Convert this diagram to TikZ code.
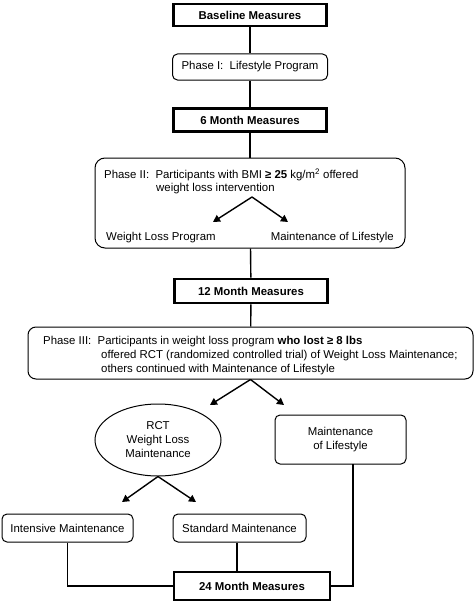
\documentclass[tikz,border=0pt]{standalone}
\usepackage{fontspec}
\setmainfont{Liberation Sans}
\usetikzlibrary{arrows.meta,shapes.geometric}
\begin{document}
\begin{tikzpicture}[x=1pt,y=-1pt,
  every node/.style={font=\fontsize{11.4}{14}\selectfont, inner sep=0pt},
  thickbox/.style={draw, line width=2.8pt, minimum width=153pt, font=\fontsize{11.4}{14}\selectfont\bfseries},
  rbox/.style={draw, rounded corners=5pt, line width=1pt},
  conn/.style={line width=1.4pt},
  arr/.style={conn, -{Triangle[length=7pt,width=7.5pt]}},
  txt/.style={anchor=west, align=left}]
\useasboundingbox (0,0) rectangle (474,602);
% main column
\node[thickbox, minimum height=22pt] (base) at (250,15) {Baseline Measures};
\node[rbox, minimum width=155pt, minimum height=26pt] (p1) at (250,67) {Phase I:\ \ Lifestyle Program};
\node[thickbox, minimum height=23pt] (m6) at (250,120) {6 Month Measures};
\node[rbox, rounded corners=10pt, minimum width=310pt, minimum height=90pt] (p2) at (250,203) {};
\node[txt] (p2a) at (104,175) {Phase II:\ \ Participants with BMI \textbf{≥ 25} kg/m\textsuperscript{2} offered};
\node[txt] (p2b) at (156,189) {weight loss intervention};
\coordinate (p2s) at (252,197);
\coordinate (p2l) at (213,222);
\coordinate (p2r) at (288,222);
\node[txt] (wlp) at (106,238) {Weight Loss Program};
\node[anchor=east] (mlp) at (394,238) {Maintenance of Lifestyle};
\node[thickbox, minimum height=24pt] (m12) at (251,291) {12 Month Measures};
\node[rbox, rounded corners=8pt, minimum width=445pt, minimum height=52pt] (p3) at (250.5,353) {};
\node[txt] (p3a) at (43,342) {Phase III:\ \ Participants in weight loss program \textbf{who lost ≥ 8 lbs}};
\node[txt] (p3b) at (101,356) {offered RCT (randomized controlled trial) of Weight Loss Maintenance;};
\node[txt] (p3c) at (101,370) {others continued with Maintenance of Lifestyle};
\coordinate (p3l) at (210,405);
\coordinate (p3r) at (284,405);
\node[draw, ellipse, line width=1pt, minimum width=126pt, minimum height=72pt, align=center] (rct) at (158,440) {RCT\\Weight Loss\\Maintenance};
\node[rbox, minimum width=131pt, minimum height=49pt, align=center] (mol) at (340.5,439.5) {Maintenance\\of Lifestyle};
\coordinate (rl) at (122,502);
\coordinate (rr) at (196,502);
\node[rbox, minimum width=131pt, minimum height=28pt] (int) at (67.5,528) {Intensive Maintenance};
\node[rbox, minimum width=133pt, minimum height=28pt] (std) at (239.5,528) {Standard Maintenance};
\node[thickbox, minimum width=156pt, minimum height=28pt] (m24) at (252,586) {24 Month Measures};
\coordinate (molx) at (353,464);
% connectors
\draw[conn] (base) -- (p1);
\draw[conn] (p1) -- (m6);
\draw[conn] (m6) -- (p2);
\draw[conn] (p2) -- (m12);
\draw[conn] (m12) -- (p3);
\draw[arr] (p2s) -- (p2l);
\draw[arr] (p2s) -- (p2r);
\draw[arr] (p3.south) -- (p3l);
\draw[arr] (p3.south) -- (p3r);
\draw[arr] (rct.south) -- (rl);
\draw[arr] (rct.south) -- (rr);
\draw[conn] (int.south) |- (m24.west);
\draw[conn] ([xshift=-2.5pt]std.south) -- ([xshift=-2.5pt]std.south |- m24.north);
\draw[conn] (molx) |- (m24.east);
\end{tikzpicture}
\end{document}
